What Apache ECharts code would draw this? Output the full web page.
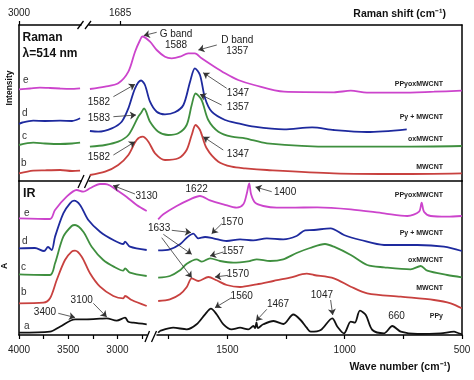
<!DOCTYPE html>
<html><head><meta charset="utf-8">
<script src="https://cdn.jsdelivr.net/npm/echarts@6/dist/echarts.min.js"></script>
<style>html,body{margin:0;padding:0;background:#fff}#c{width:474px;height:380px}</style>
</head><body><div id="c"></div>
<script>
// ---------- DATA (wavenumber cm-1, offset intensity a.u.) ----------
// Raman, left segment (3000 - 2730 cm-1)
const ramanLeftE = [[3000,91.7],[2952,92.5],[2909,93.3],[2865,93],[2821,92.5],[2778,92.2],[2734,92.7]];
const ramanLeftD = [[3000,57],[2985,58.5],[2938,60.3],[2887,60],[2821,60.3],[2769,60],[2734,62.7]];
const ramanLeftC = [[3000,36],[2938,38.3],[2887,37.5],[2821,37],[2769,37.5],[2734,38.3]];
const ramanLeftB = [[3000,7.7],[2938,10.3],[2887,10.7],[2821,11],[2769,10],[2734,10.3]];
// Raman, right segment
const ramanRightE = [[1816,92],[1750,94.3],[1693,97.7],[1649,109.3],[1620,129.3],[1598,141],[1588,144.5],[1555,139.3],[1526,131],[1490,124.3],[1461,122.7],[1425,124.3],[1389,127.7],[1360,127.7],[1331,122.7],[1287,116],[1229,107.7],[1172,101],[1103,96],[973,89.3],[756,88.7],[683,90.3],[613,88.3],[466,88.3],[322,89.3],[201,90.3]];
const ramanRightD = [[1816,50],[1780,49.3],[1721,52.7],[1678,59.3],[1649,72.7],[1620,92.7],[1594,100.5],[1577,96],[1555,79.3],[1526,69.3],[1490,66.7],[1447,68.7],[1410,76],[1381,99.3],[1360,112.7],[1338,106],[1316,82.7],[1287,69.3],[1229,61],[1172,57.7],[1103,54.3],[973,51.7],[851,53.7],[756,51],[613,49],[440,51.7]];
const ramanRightC = [[1816,34.3],[1750,36],[1693,39.3],[1649,46],[1606,64.3],[1594,68],[1581,72.5],[1555,59.3],[1519,49.3],[1476,46],[1432,47.7],[1396,56],[1374,76],[1357,87.5],[1331,81],[1302,61],[1258,49.3],[1200,44.3],[1142,42.7],[1047,37.7],[756,34.3],[466,34.3],[201,35]];
const ramanRightB = [[1816,6],[1750,9.3],[1693,16],[1649,26],[1613,41],[1587,44.3],[1562,39.3],[1533,27.7],[1490,21],[1432,22.7],[1396,31],[1374,46],[1357,56],[1338,51],[1309,32.7],[1258,19.3],[1200,14.3],[1142,12.7],[1047,11],[756,7.7],[466,7],[201,7.7]];
// IR, left segment (4000 - 2700 cm-1)
const irLeftE = [[4000,116.7],[3685,116],[3634,125],[3516,138.3],[3414,145],[3347,143.3],[3279,146.7],[3177,151],[3127,151],[3076,149.5],[3008,145],[2906,138],[2805,130],[2703,124]];
const irLeftD = [[4000,86.7],[3838,87],[3746,84],[3705,88],[3668,85],[3634,98.3],[3550,121.7],[3482,131.7],[3441,134.3],[3380,130],[3296,115],[3177,103.3],[3042,95],[2941,91],[2923,93.3],[2873,88.3],[2703,85]];
const irLeftC = [[4000,60.7],[3685,60],[3634,71.7],[3550,98.3],[3465,109],[3431,110],[3347,103.3],[3262,88.3],[3144,75],[3025,67.7],[2941,64.3],[2923,66.7],[2873,62.3],[2703,59]];
const irLeftB = [[4000,31.7],[3753,32.3],[3685,36.7],[3617,55],[3533,75],[3465,83.3],[3431,84.3],[3363,78.3],[3279,61.7],[3177,48.3],[3042,39],[2941,36.7],[2923,39],[2855,35],[2703,29]];
const irLeftA = [[4000,2.3],[3685,3.3],[3584,8.3],[3431,15.7],[3312,15.7],[3177,16.3],[3109,16.7],[3008,14.3],[2923,17.3],[2890,13.3],[2839,12.3],[2703,10.7]];
// IR, right segment (1800 - 500 cm-1)
const irRightE = [[1795,115.7],[1773,120.7],[1716,129],[1659,135.7],[1617,139],[1574,134.7],[1517,130.7],[1460,127.3],[1432,130.7],[1418,140.7],[1407,151.5],[1399,140.7],[1382,132.3],[1347,129],[1290,127.3],[1233,127.3],[1117,127.7],[974,125.7],[832,121.7],[733,119],[683,123.3],[672,132.3],[662,123.3],[633,119],[563,118.3],[501,119]];
const irRightD = [[1795,84.7],[1745,85.7],[1702,90.7],[1673,97.3],[1645,101.3],[1624,96.7],[1595,98],[1560,96.7],[1503,94],[1446,95.7],[1390,94.7],[1332,96.7],[1262,95.7],[1205,99],[1169,104.7],[1131,105],[1060,106.7],[1003,100],[932,95],[832,90],[690,90],[577,88.3],[501,84]];
const irRightC = [[1795,57.3],[1745,59],[1702,64.7],[1673,71.3],[1631,75.7],[1609,73.3],[1574,76.7],[1531,74],[1475,72.3],[1404,74],[1375,75.7],[1318,74],[1262,75.7],[1205,82],[1148,87],[1084,91],[1046,88.3],[974,80],[904,70],[832,67.7],[719,65.7],[676,69],[648,64.3],[563,60],[501,57.7]];
const irRightB = [[1795,34],[1745,35.7],[1702,40.7],[1673,48],[1652,56.7],[1624,54],[1581,58],[1546,54.7],[1503,50],[1446,48],[1375,50.7],[1304,54],[1233,57.3],[1162,61.3],[1131,60],[1046,56.7],[974,48.3],[904,41.7],[761,38.3],[619,35],[548,31.7],[501,26.7]];
const irRightA = [[1795,2.3],[1787,4],[1731,7.3],[1673,5.7],[1631,10.7],[1595,20.7],[1570,26.3],[1546,20.7],[1517,10.7],[1482,5.7],[1446,7.3],[1411,5.7],[1389,9],[1382,7],[1376,12.5],[1370,7],[1347,10.7],[1303,14],[1261,11],[1219,20.5],[1188,15],[1162,7.3],[1145,3.3],[1102,5],[1053,16.7],[1031,8.3],[1003,1.7],[974,13.3],[957,12.3],[935,24.3],[910,20],[882,5],[832,1.7],[797,9],[761,3.3],[690,1],[591,1.7],[534,3.3],[517,2],[501,1]];

// tick values / labels
const ramanLeftTicks = [3000];
const ramanRightTicks = [1685];
const irLeftTicks = [4000,3750,3500,3250,3000,2750];
const irLeftLabels = [4000,3500,3000];
const irRightTicks = [1750,1500,1250,1000,750,500];
const irRightLabels = [1500,1000,500];

const ramanNames = ['PPyoxMWCNT','Py + MWCNT','oxMWCNT','MWCNT'];
const irNames = ['PPyoxMWCNT','Py + MWCNT','oxMWCNT','MWCNT','PPy'];

// annotations (text at data coords, arrows from -> to in data coords)
const ramanNotes = [
  {text:'G band\n1588', at:[1442,141.4]}, {text:'D band\n1357', at:[1176,135]},
  {text:'1347', at:[1173,88]}, {text:'1357', at:[1173,73.5]}, {text:'1347', at:[1173,27]},
  {text:'1582', at:[1777,79]}, {text:'1583', at:[1777,62.7]}, {text:'1582', at:[1777,23.7]}
];
const ramanArrows = [
  {from:[1526,148.7], to:[1582,145.5]}, {from:[1265,136], to:[1345,131]},
  {from:[1222,92.7], to:[1324,108.3]}, {from:[1244,76], to:[1338,86.7]}, {from:[1237,31], to:[1324,44.3]},
  {from:[1714,84.3], to:[1620,96.7]}, {from:[1714,64.3], to:[1616,66]}, {from:[1714,26], to:[1620,39.3]}
];
const irLeftNotes = [{text:'3130', at:[2705,138.3]}, {text:'3100', at:[3363,34.3]}, {text:'3400', at:[3736,22.3]}];
const irLeftArrows = [{from:[2822,141], to:[3045,149.5]}, {from:[3245,31.7], to:[3109,18]}, {from:[3601,21.7], to:[3431,17.5]}];
const irRightNotes = [
  {text:'1622', at:[1631,145.7]}, {text:'1400', at:[1254,142.3]}, {text:'1633', at:[1791,107]},
  {text:'1570', at:[1480,112.3]}, {text:'1557', at:[1476,84]}, {text:'1570', at:[1455,61]},
  {text:'1560', at:[1439,39]}, {text:'1467', at:[1284,31]}, {text:'1047', at:[1097,40]}, {text:'660', at:[779,19]}
];
const irRightArrows = [
  {from:[1311,143.3], to:[1380,148]},
  {from:[1737,104.7], to:[1655,102.5]}, {from:[1773,100.7], to:[1652,80.7]}, {from:[1780,97.3], to:[1652,57.3]},
  {from:[1524,111.3], to:[1567,101.3]}, {from:[1517,83], to:[1574,79]}, {from:[1496,59.7], to:[1553,58]},
  {from:[1482,37.3], to:[1553,27.3]}, {from:[1332,25.7], to:[1378,14]}, {from:[1060,35], to:[1051,20]}
];

// ---------- STYLE ----------
const COL = {e:'#CC44CC', d:'#1E2A9E', c:'#3F8F3F', b:'#C8413F', a:'#111111'};
const FONT = 'Liberation Sans';

const chart = echarts.init(document.getElementById('c'), null, {renderer:'canvas'});

function xAx(grid, min, max, pos, ticks, labels) {
  return {
    type:'value', gridIndex:grid, min, max, inverse:true, position:pos,
    axisLine:{show:true, onZero:false, lineStyle:{color:'#000', width:1.5}},
    axisTick:{show:!!ticks, inside:false, length:4, customValues:ticks||[], lineStyle:{color:'#000', width:1.2}},
    axisLabel:{show:!!labels, customValues:labels||[], margin: pos==='top'?7:10, color:'#222', fontSize:10, fontFamily:FONT,
      formatter:v=>String(v)},
    splitLine:{show:false}
  };
}
function yAx(grid, max, pos) {
  return {
    type:'value', gridIndex:grid, min:0, max, position:pos,
    axisLine:{show:true, onZero:false, lineStyle:{color:'#000', width:1.5}},
    axisTick:{show:false}, axisLabel:{show:false}, splitLine:{show:false}
  };
}
function line(data, xi, yi, color, extra) {
  return Object.assign({
    type:'line', xAxisIndex:xi, yAxisIndex:yi, data, symbol:'none', showSymbol:false,
    smooth:0.3, clip:true, silent:true, animation:false,
    lineStyle:{color, width:1.8}, itemStyle:{color}
  }, extra||{});
}
function notes(list) {
  return {
    symbol:'circle', symbolSize:1, itemStyle:{color:'rgba(0,0,0,0)'}, silent:true, animation:false,
    label:{show:true, position:'inside', color:'#222', fontSize:10, fontFamily:FONT, lineHeight:11,
      formatter:p=>p.name},
    data:list.map(n=>({name:n.text, coord:n.at}))
  };
}
function arrows(list) {
  return {
    symbol:['none','arrow'], symbolSize:6, silent:true, animation:false,
    label:{show:false}, emphasis:{disabled:true},
    lineStyle:{color:'#333', width:0.8, type:'solid'}, itemStyle:{color:'#111'},
    data:list.map(a=>[{coord:a.from},{coord:a.to}])
  };
}
function txt(x, y, text, opt) {
  return {type:'text', x, y, silent:true, style:Object.assign({text, fill:'#222', fontSize:10, fontFamily:FONT,
    align:'left', verticalAlign:'middle'}, opt||{})};
}
function slash(x1,y1,x2,y2) {
  return {type:'line', silent:true, shape:{x1,y1,x2,y2}, style:{stroke:'#000', lineWidth:1.3}};
}

const g = {containLabel:false, outerBoundsMode:'none'};
const option = {
  backgroundColor:'#fff',
  animation:false,
  grid:[
    Object.assign({left:19, top:25, width:62, height:156}, g),
    Object.assign({left:89, top:25, width:373, height:156}, g),
    Object.assign({left:19, top:181, width:128, height:154}, g),
    Object.assign({left:157, top:181, width:305, height:154}, g)
  ],
  xAxis:[
    xAx(0, 2730, 3000, 'top', ramanLeftTicks, ramanLeftTicks),
    xAx(1, 200, 1820, 'top', ramanRightTicks, ramanRightTicks),
    xAx(0, 2730, 3000, 'bottom', null, null),
    xAx(1, 200, 1820, 'bottom', null, null),
    xAx(2, 2700, 4000, 'bottom', irLeftTicks, irLeftLabels),
    xAx(3, 500, 1800, 'bottom', irRightTicks, irRightLabels)
  ],
  yAxis:[ yAx(0,156,'left'), yAx(1,156,'right'), yAx(2,154,'left'), yAx(3,154,'right') ],
  series:[
    line(ramanLeftE,0,0,COL.e), line(ramanLeftD,0,0,COL.d), line(ramanLeftC,0,0,COL.c), line(ramanLeftB,0,0,COL.b),
    line(ramanRightE,1,1,COL.e,{markPoint:notes(ramanNotes), markLine:arrows(ramanArrows)}),
    line(ramanRightD,1,1,COL.d), line(ramanRightC,1,1,COL.c), line(ramanRightB,1,1,COL.b),
    line(irLeftE,4,2,COL.e,{markPoint:notes(irLeftNotes), markLine:arrows(irLeftArrows)}),
    line(irLeftD,4,2,COL.d), line(irLeftC,4,2,COL.c), line(irLeftB,4,2,COL.b), line(irLeftA,4,2,COL.a),
    line(irRightE,5,3,COL.e,{markPoint:notes(irRightNotes), markLine:arrows(irRightArrows)}),
    line(irRightD,5,3,COL.d), line(irRightC,5,3,COL.c), line(irRightB,5,3,COL.b), line(irRightA,5,3,COL.a)
  ],
  graphic:[
    // axis breaks
    slash(77.5,29,83.5,21), slash(85,29,91,21),
    slash(78,188,84,175), slash(84.5,188,90.5,175),
    slash(145,342,149.5,331), slash(151.5,342,156.5,331),
    // axis titles
    txt(446,14.5,'Raman shift (cm\u207B\u00B9)',{align:'right', fontWeight:'bold', fontSize:10.5, fill:'#111'}),
    txt(400,367,'Wave number (cm\u207B\u00B9)',{align:'center', fontWeight:'bold', fontSize:10.5, fill:'#111'}),
    {type:'text', x:10, y:88, rotation:Math.PI/2, silent:true, style:{text:'Intensity', fill:'#111', fontSize:8.5, fontWeight:'bold', fontFamily:FONT, align:'center', verticalAlign:'middle'}},
    {type:'text', x:5, y:266, rotation:Math.PI/2, silent:true, style:{text:'A', fill:'#111', fontSize:8.5, fontWeight:'bold', fontFamily:FONT, align:'center', verticalAlign:'middle'}},
    // panel titles
    txt(22.5,37.7,'Raman',{fontWeight:'bold', fontSize:12, fill:'#111'}),
    txt(22.5,53.3,'\u03BB=514 nm',{fontWeight:'bold', fontSize:12, fill:'#111'}),
    txt(23,193.3,'IR',{fontWeight:'bold', fontSize:12.5, fill:'#111'}),
    // curve letters
    txt(23,80,'e',{fill:'#333'}), txt(22,113,'d',{fill:'#333'}), txt(22,136.7,'c',{fill:'#333'}), txt(21,163.3,'b',{fill:'#333'}),
    txt(24,213.3,'e',{fill:'#333'}), txt(22,241.7,'d',{fill:'#333'}), txt(21,267.3,'c',{fill:'#333'}), txt(21,292.7,'b',{fill:'#333'}), txt(24,326.7,'a',{fill:'#333'}),
    // series names
    txt(443,84,ramanNames[0],{align:'right', fontWeight:'bold', fontSize:7, fill:'#222'}),
    txt(443,117.3,ramanNames[1],{align:'right', fontWeight:'bold', fontSize:7, fill:'#222'}),
    txt(443,138.7,ramanNames[2],{align:'right', fontWeight:'bold', fontSize:7, fill:'#222'}),
    txt(443,166.7,ramanNames[3],{align:'right', fontWeight:'bold', fontSize:7, fill:'#222'}),
    txt(443,195,irNames[0],{align:'right', fontWeight:'bold', fontSize:7, fill:'#222'}),
    txt(443,233.3,irNames[1],{align:'right', fontWeight:'bold', fontSize:7, fill:'#222'}),
    txt(443,260,irNames[2],{align:'right', fontWeight:'bold', fontSize:7, fill:'#222'}),
    txt(443,288.3,irNames[3],{align:'right', fontWeight:'bold', fontSize:7, fill:'#222'}),
    txt(443,316,irNames[4],{align:'right', fontWeight:'bold', fontSize:7, fill:'#222'})
  ]
};
chart.setOption(option);
</script></body></html>
